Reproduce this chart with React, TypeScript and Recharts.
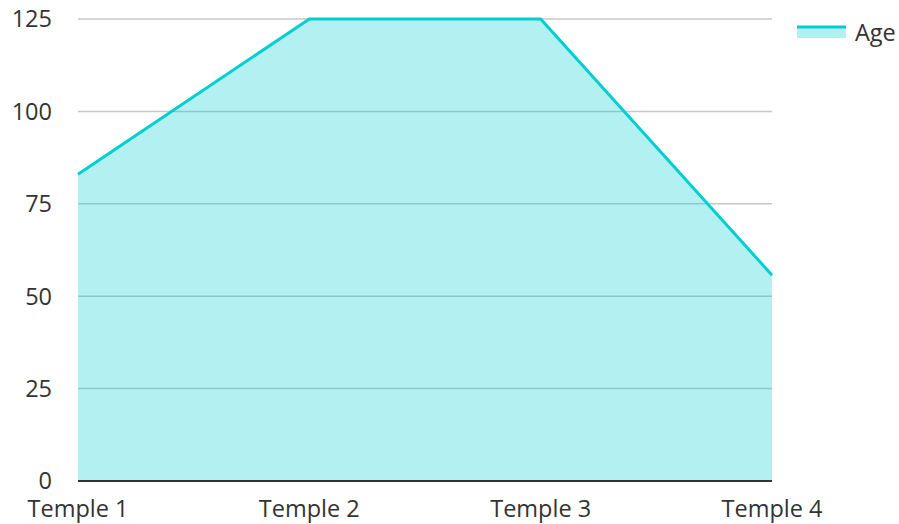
import React from 'react';
import { AreaChart, Area, XAxis, YAxis, CartesianGrid, Legend } from 'recharts';

const temples = ['Temple 1', 'Temple 2', 'Temple 3', 'Temple 4'];
const ages = [83, 125, 125, 55.7];
const yTicks = [0, 25, 50, 75, 100, 125];

const data = temples.map((name, i) => ({ name, Age: ages[i] }));

const COLOR = '#00CED1';
const FONT = '"Open Sans", "Noto Sans", sans-serif';

const AgeLegend = () => (
  <div style={{ display: 'flex', alignItems: 'center', width: 102, fontFamily: FONT, fontSize: 23.5, color: '#333', lineHeight: '28px' }}>
    <svg width={49} height={14} style={{ marginRight: 9 }}>
      <rect x={0} y={3} width={49} height={10} fill={COLOR} fillOpacity={0.3} />
      <line x1={0} x2={49} y1={2} y2={2} stroke={COLOR} strokeWidth={3} />
    </svg>
    <span>Age</span>
  </div>
);

const App: React.FC = () => {
  return (
    <div style={{ position: 'absolute', left: 0, top: 0, width: 899, height: 524 }}>
      <AreaChart width={899} height={524} data={data} margin={{ top: 19, right: 25, left: 0, bottom: 13 }}>
        <CartesianGrid vertical={false} stroke="#c8c8c8" strokeWidth={1.5} />
        <XAxis
          dataKey="name"
          axisLine={{ stroke: '#333', strokeWidth: 2 }}
          tickLine={false}
          tickSize={0}
          tickMargin={19}
          tick={{ fill: '#333', fontSize: 23.5, fontFamily: FONT }}
          interval={0}
        />
        <YAxis
          domain={[0, 125]}
          ticks={yTicks}
          width={78}
          axisLine={false}
          tickLine={false}
          tickSize={0}
          tickMargin={26}
          tick={{ fill: '#333', fontSize: 23.5, fontFamily: FONT }}
        />
        <Legend
          layout="vertical"
          align="right"
          verticalAlign="top"
          content={<AgeLegend />}
          wrapperStyle={{ top: 18, right: 0 }}
        />
        <Area
          type="linear"
          dataKey="Age"
          stroke={COLOR}
          strokeWidth={3}
          fill={COLOR}
          fillOpacity={0.3}
          isAnimationActive={false}
        />
      </AreaChart>
    </div>
  );
};

export default App;
